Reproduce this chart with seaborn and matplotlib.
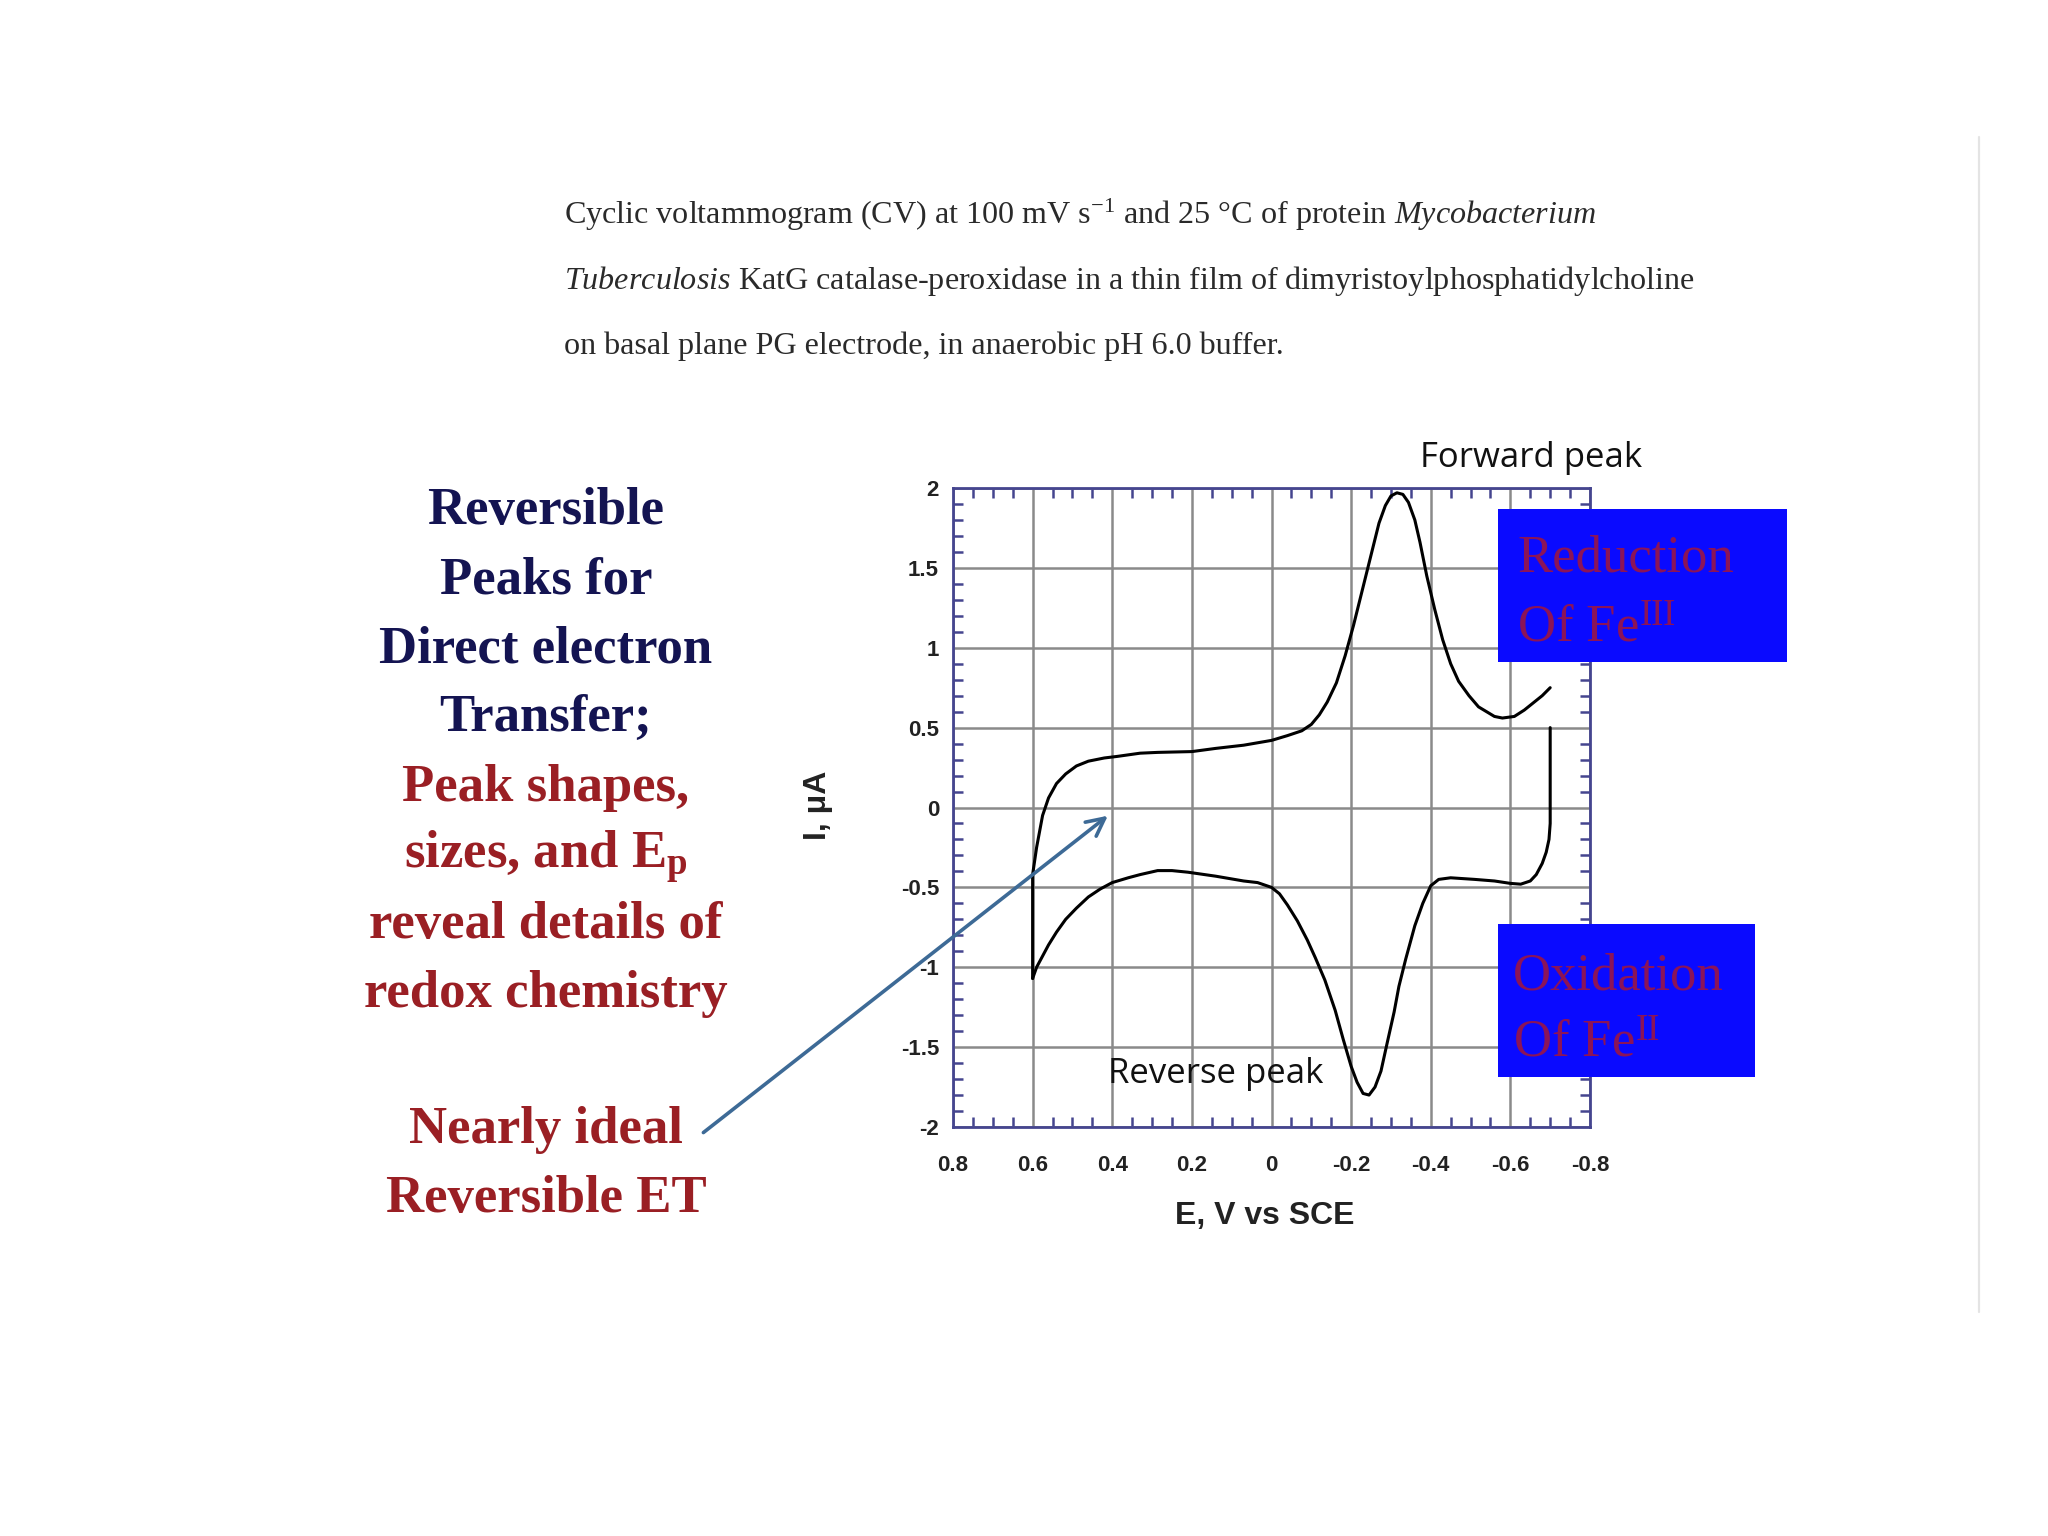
import numpy as np
import pandas as pd
import seaborn as sns
import matplotlib.pyplot as plt
from matplotlib.patches import Rectangle
from matplotlib.lines import Line2D
from matplotlib.ticker import MultipleLocator

# cathodic sweep (upper branch), E in V vs SCE, I in uA
fwd_E = [0.60, 0.60, 0.59, 0.575, 0.56, 0.54, 0.517, 0.49, 0.46, 0.42, 0.387, 0.33, 0.286, 0.20,
         0.14, 0.07, 0.00, -0.04, -0.076, -0.10, -0.12, -0.14, -0.163, -0.185, -0.206, -0.23,
         -0.25, -0.27, -0.286, -0.30, -0.315, -0.33, -0.344, -0.36, -0.373, -0.39, -0.41, -0.43,
         -0.45, -0.47, -0.496, -0.52, -0.54, -0.56, -0.58, -0.61, -0.635, -0.655, -0.68, -0.70]
fwd_I = [-1.07, -0.42, -0.25, -0.05, 0.06, 0.15, 0.21, 0.26, 0.29, 0.31, 0.32, 0.34, 0.345, 0.35,
         0.37, 0.39, 0.42, 0.45, 0.48, 0.52, 0.58, 0.66, 0.78, 0.95, 1.14, 1.38,
         1.58, 1.78, 1.89, 1.95, 1.97, 1.96, 1.91, 1.80, 1.66, 1.45, 1.24, 1.05,
         0.90, 0.79, 0.70, 0.63, 0.60, 0.57, 0.56, 0.57, 0.61, 0.65, 0.70, 0.75]

# anodic sweep (lower branch)
rev_E = [-0.70, -0.70, -0.70, -0.697, -0.69, -0.68, -0.665, -0.65, -0.626, -0.60, -0.56, -0.51,
         -0.45, -0.42, -0.40, -0.38, -0.36, -0.337, -0.32, -0.308, -0.29, -0.275, -0.26, -0.245,
         -0.23, -0.215, -0.20, -0.18, -0.16, -0.134, -0.11, -0.09, -0.065, -0.04, -0.02, 0.00,
         0.035, 0.07, 0.14, 0.21, 0.25, 0.286, 0.33, 0.36, 0.40, 0.43, 0.46, 0.49, 0.517, 0.54,
         0.56, 0.575, 0.59, 0.60]
rev_I = [0.50, 0.20, -0.10, -0.20, -0.28, -0.35, -0.42, -0.46, -0.48, -0.475, -0.46, -0.45,
         -0.44, -0.45, -0.49, -0.60, -0.74, -0.95, -1.12, -1.28, -1.48, -1.65, -1.75, -1.80,
         -1.79, -1.72, -1.62, -1.45, -1.27, -1.08, -0.94, -0.83, -0.71, -0.61, -0.54, -0.50,
         -0.47, -0.46, -0.43, -0.405, -0.395, -0.395, -0.42, -0.44, -0.47, -0.51, -0.56, -0.63, -0.70, -0.78,
         -0.86, -0.93, -1.00, -1.07]

x_ticks = [0.8, 0.6, 0.4, 0.2, 0, -0.2, -0.4, -0.6, -0.8]
x_tick_labels = ["0.8", "0.6", "0.4", "0.2", "0", "-0.2", "-0.4", "-0.6", "-0.8"]
y_ticks = [2, 1.5, 1, 0.5, 0, -0.5, -1, -1.5, -2]
y_tick_labels = ["2", "1.5", "1", "0.5", "0", "-0.5", "-1", "-1.5", "-2"]

title_lines = [
    r"Cyclic voltammogram (CV) at 100 mV s$^{\mathrm{-1}}$ and 25 °C of protein $\mathit{Mycobacterium}$",
    r"$\mathit{Tuberculosis}$ KatG catalase-peroxidase in a thin film of dimyristoylphosphatidylcholine",
    "on basal plane PG electrode, in anaerobic pH 6.0 buffer.",
]
blue_lines = ["Reversible", "Peaks for", "Direct electron", "Transfer;"]
red_lines = ["Peak shapes,", r"sizes, and E$_{\mathbf{p}}$", "reveal details of", "redox chemistry"]
et_lines = ["Nearly ideal", "Reversible ET"]

sns.set_theme(style="white")
plt.rcParams["font.family"] = ["Liberation Serif", "DejaVu Serif"]
plt.rcParams["mathtext.fontset"] = "custom"
plt.rcParams["mathtext.rm"] = "Liberation Serif"
plt.rcParams["mathtext.it"] = "Liberation Serif:italic"
plt.rcParams["mathtext.bf"] = "Liberation Serif:bold"

W, H = 2048, 1536
fig = plt.figure(figsize=(10.24, 7.68), dpi=200, facecolor="white")


def fx(x):
    return x / W


def fy(y):
    return 1 - y / H


ax = fig.add_axes([fx(953), fy(1127), fx(1590) - fx(953), fy(488) - fy(1127)])

fwd = pd.DataFrame({"E": fwd_E, "I": fwd_I})
rev = pd.DataFrame({"E": rev_E, "I": rev_I})
sns.lineplot(data=fwd, x="E", y="I", sort=False, estimator=None, color="black", lw=1.1, ax=ax, zorder=3)
sns.lineplot(data=rev, x="E", y="I", sort=False, estimator=None, color="black", lw=1.1, ax=ax, zorder=3)

ax.set_xlim(0.8, -0.8)
ax.set_ylim(-2, 2)
ax.set_xticks(x_ticks)
ax.set_xticklabels(x_tick_labels)
ax.set_yticks(y_ticks)
ax.set_yticklabels(y_tick_labels)
ax.xaxis.set_minor_locator(MultipleLocator(0.05))
ax.yaxis.set_minor_locator(MultipleLocator(0.1))
ax.grid(True, which="major", color="#8a8a8a", lw=0.9)
spine_col = "#45458f"
for s in ax.spines.values():
    s.set_color(spine_col)
    s.set_linewidth(1.0)
    s.set_zorder(4)
ax.tick_params(which="both", direction="in", top=True, right=True, bottom=True, left=True,
               color=spine_col, width=0.9)
ax.tick_params(which="major", length=0)
ax.tick_params(which="minor", length=3.5)
ax.tick_params(axis="x", which="major", pad=10)
ax.tick_params(axis="y", which="major", pad=5)
for lab in ax.get_xticklabels() + ax.get_yticklabels():
    lab.set_family("Liberation Sans")
    lab.set_fontweight("bold")
    lab.set_fontsize(8)
    lab.set_color("#222222")
ax.set_xlabel("")
ax.set_ylabel("")

fig.text(fx(1265), fy(1216), "E, V vs SCE", family="Liberation Sans", weight="bold",
         fontsize=11.5, ha="center", va="center", color="#222222")
fig.text(fx(818), fy(805), "I, μA", family="Liberation Sans", weight="bold",
         fontsize=11.5, ha="center", va="center", rotation=90, color="#222222")

fig.text(fx(1420), fy(458), "Forward peak", family="Open Sans", fontsize=12.5,
         ha="left", va="center", color="#111111")
fig.text(fx(1108), fy(1074), "Reverse peak", family="Open Sans", fontsize=12.5,
         ha="left", va="center", color="#111111", zorder=5)

# title block, fitted to the width of the reference lines
title_y = [215, 281, 346]
title_objs = [fig.text(fx(564), fy(y), t, fontsize=14, ha="left", va="center", color="#2a2a2a")
              for t, y in zip(title_lines, title_y)]
fig.canvas.draw()
r = fig.canvas.get_renderer()
w2 = title_objs[1].get_window_extent(r).width
size = 14 * 1131 / w2
for t in title_objs:
    t.set_fontsize(size)

# left explanation text
left_y = [511, 580, 649, 718, 788, 857, 925, 994]
for t, y in zip(blue_lines + red_lines, left_y):
    col = "#141452" if t in blue_lines else "#9a1f24"
    fig.text(fx(546), fy(y), t, fontsize=19, weight="bold", ha="center", va="center", color=col)
for t, y in zip(et_lines, [1130, 1199]):
    fig.text(fx(546), fy(y), t, fontsize=19, weight="bold", ha="center", va="center", color="#9a1f24")

# blue boxes
box_text_col = "#8b1458"
fig.add_artist(Rectangle((fx(1498), fy(662)), fx(1787) - fx(1498), fy(509) - fy(662),
                         transform=fig.transFigure, facecolor="#0a0aff", edgecolor="none", zorder=6))
fig.add_artist(Rectangle((fx(1498), fy(1077)), fx(1755) - fx(1498), fy(924) - fy(1077),
                         transform=fig.transFigure, facecolor="#0a0aff", edgecolor="none", zorder=6))
fig.text(fx(1517), fy(572), "Reduction", fontsize=19, color=box_text_col, ha="left",
         va="baseline", zorder=7)
fig.text(fx(1517), fy(642), r"Of Fe$^{\mathrm{III}}$", fontsize=19, color=box_text_col, ha="left",
         va="baseline", zorder=7)
fig.text(fx(1513), fy(990), "Oxidation", fontsize=19, color=box_text_col, ha="left",
         va="baseline", zorder=7)
fig.text(fx(1513), fy(1057), r"Of Fe$^{\mathrm{II}}$", fontsize=19, color=box_text_col, ha="left",
         va="baseline", zorder=7)

# arrow from "Nearly ideal" into the plot
ax.annotate("", xy=(0.40, -0.03), xycoords="data",
            xytext=(fx(699), fy(1136)), textcoords="figure fraction",
            arrowprops=dict(arrowstyle="->", color="#3d6a96", lw=1.3, mutation_scale=16),
            annotation_clip=False, zorder=8)

# faint page edge on the right
fig.add_artist(Line2D([fx(1979), fx(1979)], [fy(137), fy(1312)], transform=fig.transFigure,
                      color="#e4e4e4", lw=0.8))

fig.savefig("out.png", dpi=200, facecolor="white")
